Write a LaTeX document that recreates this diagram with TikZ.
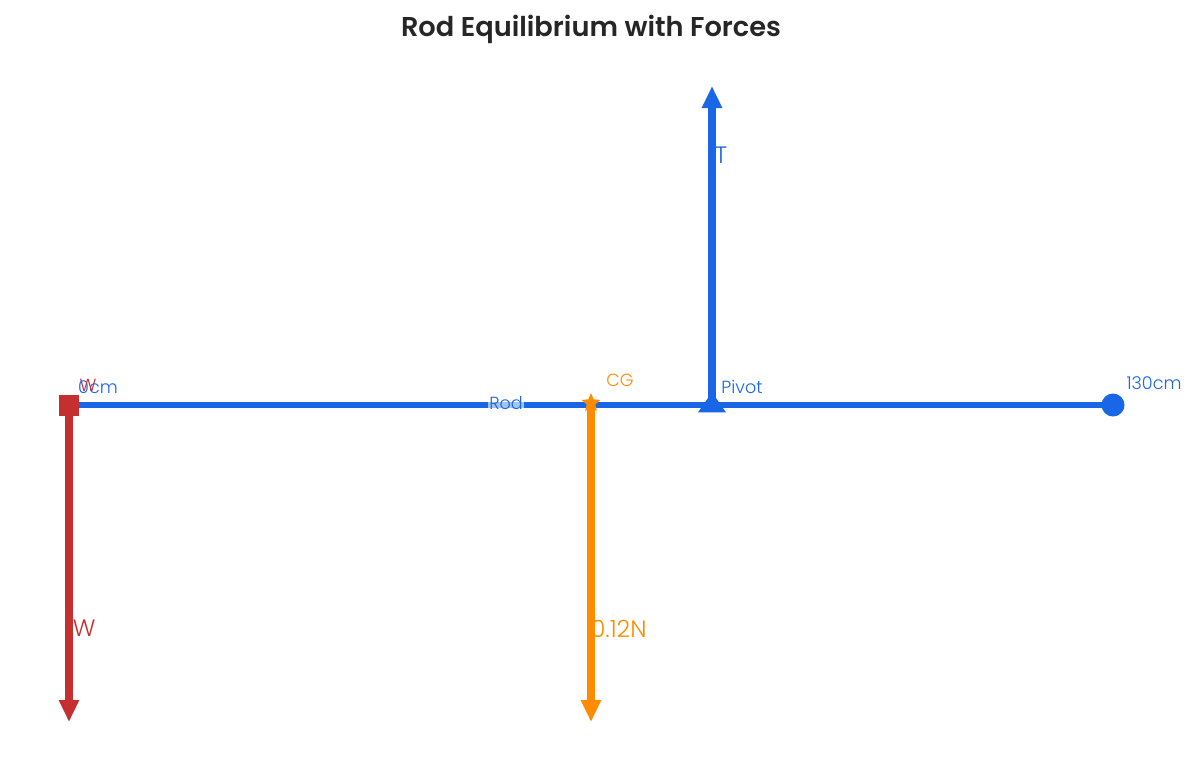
\documentclass[tikz,border=0pt]{standalone}
\usepackage{fontspec}
\setmainfont{Poppins}
\newfontfamily\thinfont{Poppins Light}
\newfontfamily\headfont{Poppins SemiBold}
\usetikzlibrary{arrows.meta,shapes.geometric,positioning}
\definecolor{rodblue}{HTML}{1967E6}
\definecolor{wred}{HTML}{C62F2F}
\definecolor{cgorange}{HTML}{FF8C00}
\tikzset{
every picture/.style={
line width=1pt
}}
\tikzset{
lbl/.style={font=\thinfont\fontsize{10}{12}\selectfont, inner sep=0pt},
flbl/.style={font=\thinfont\fontsize{13.5}{15}\selectfont, inner sep=0pt, anchor=west},
force/.style={line width=4.3pt, -{Triangle[length=0.44cm,width=0.38cm]}}
}

\begin{document}
\begin{tikzpicture}[x=0.02cm, y=-0.02cm]
\useasboundingbox (0,0) rectangle (1200,769);

\node[font=\headfont\fontsize{15.5}{19}\selectfont, text=black!85] (title) at (591,29) {Rod Equilibrium with Forces};

% rod and its ends
\coordinate (left) at (69,405);
\coordinate (right) at (1113,405);
\draw[rodblue, line width=3.6pt] (left) -- (right);
\node[lbl, text=rodblue, fill=white, fill opacity=0.6, text opacity=1, inner sep=1pt] (rod) at (506,403) {Rod};
\node[fill=wred, minimum size=0.42cm, inner sep=0pt] (end0) at (left) {};
\node[circle, fill=rodblue, minimum size=0.46cm, inner sep=0pt] (end1) at (right) {};
\node[lbl, text=rodblue] (l0) at (98,387) {0cm};
\node[lbl, text=wred] (lw) at (88,385) {W};
\node[lbl, text=rodblue] (l130) at (1154,383) {130cm};

% forces
\coordinate (wtip) at (69,722);
\coordinate (cgpt) at (591,405);
\coordinate (cgtip) at (591,722);
\coordinate (pivpt) at (712,405);
\coordinate (ttip) at (712,86);
\draw[force, wred] (left) -- (wtip);
\draw[force, cgorange] (cgpt) -- (cgtip);
\draw[force, rodblue] (pivpt) -- (ttip);

\node[star, star points=5, star point ratio=2.2, fill=cgorange, minimum size=0.4cm, inner sep=0pt] (cg) at (591,403) {};
\node[isosceles triangle, shape border rotate=90, isosceles triangle apex angle=70, fill=rodblue, minimum height=0.4cm, inner sep=0pt] (pivot) at (712,405) {};

\node[lbl, text=cgorange] (lcg) at (620,380) {CG};
\node[lbl, text=rodblue] (lpiv) at (742,387) {Pivot};
\node[flbl, text=rodblue] (lt) at (714,155) {T};
\node[flbl, text=wred] (lwf) at (72,628) {W};
\node[flbl, text=cgorange] (lcgf) at (590,629) {0.12N};
\end{tikzpicture}
\end{document}
